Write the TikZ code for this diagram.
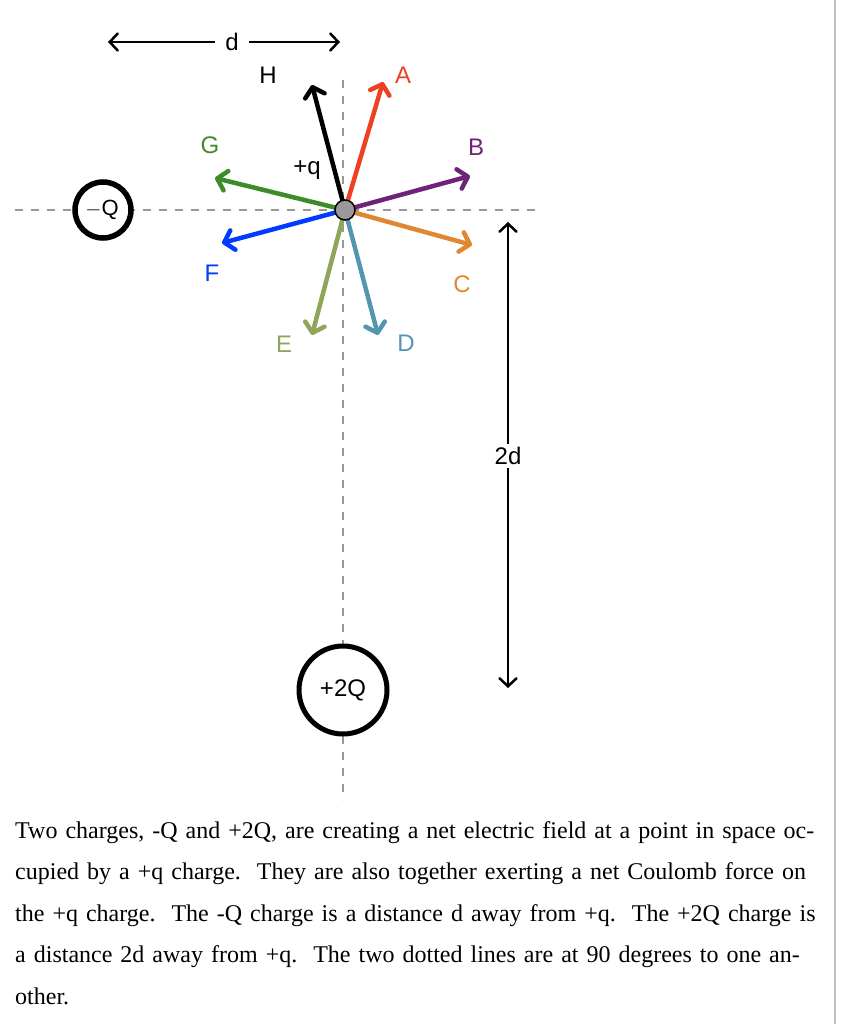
\documentclass[tikz,border=0pt]{standalone}
\usepackage{fontspec}
\setmainfont{Liberation Serif}
\newfontfamily\lsans{Liberation Sans}
\usetikzlibrary{arrows.meta}
\definecolor{cA}{RGB}{238,64,35}
\definecolor{cB}{RGB}{110,35,120}
\definecolor{cC}{RGB}{225,135,50}
\definecolor{cD}{RGB}{85,150,175}
\definecolor{cE}{RGB}{145,165,90}
\definecolor{cF}{RGB}{0,60,255}
\definecolor{cG}{RGB}{60,140,40}
\begin{document}
\begin{tikzpicture}[x=1pt,y=-1pt,
 vec/.style={line width=4.5pt,line cap=round,-{Straight Barb[length=9pt,width=20pt,line cap=round,line join=round]}},
 dim/.style={line width=2.5pt,-{Straight Barb[length=8pt,width=17pt,line cap=round]}},
 lab/.style={font=\lsans\fontsize{24}{24}\selectfont},
 dashln/.style={gray!80,line width=2pt,dash pattern=on 8pt off 8pt}]
\useasboundingbox (0,0) rectangle (853,1024);
\draw[gray!50,line width=1.5pt] (835,0) -- (835,1024);
\draw[dashln] (15,210) -- (535,210);
\draw[dashln] (343,80) -- (343,800);
\coordinate (q) at (345,210);
\foreach \t/\c in {{(312,85)}/black,{(383,82)}/cA,{(470,176)}/cB,{(472,245)}/cC,{(378,335)}/cD,{(312,335)}/cE,{(222,243)}/cF,{(215,178)}/cG}
  \draw[vec,\c] (q) -- \t;
\node[circle,draw=black,fill=gray!80,line width=1.5pt,minimum size=20pt,inner sep=0] (qn) at (q) {};
\node[circle,draw,line width=5.5pt,fill=white,minimum size=56pt,inner sep=0,lab] (nQ) at (103,210) {\kern-2pt{\fontsize{22}{22}\selectfont$-$Q}};
\node[circle,draw,line width=5pt,fill=white,minimum size=88pt,inner sep=0,lab] (pQ) at (343,690) {+2Q};
\node[lab] (lH) at (268,75) {H};
\node[lab,cA] (lA) at (403,75) {A};
\node[lab,cB] (lB) at (476,147) {B};
\node[lab,cC] (lC) at (462,284) {C};
\node[lab,cD] (lD) at (406,343) {D};
\node[lab,cE] (lE) at (284,344) {E};
\node[lab,cF] (lF) at (212,273) {F};
\node[lab,cG] (lG) at (210,145) {G};
\node[lab] (lq) at (307,170) {+q};
\node[lab,inner sep=2pt] (ld) at (232,42) {d};
\coordinate (dl) at (108,42); \coordinate (dr) at (340,42);
\draw[dim] (ld.west) ++(-8,0) -- (dl);
\draw[dim] (ld.east) ++(8,0) -- (dr);
\node[lab,fill=white] (l2d) at (508,456) {2d};
\coordinate (t2) at (508,222); \coordinate (b2) at (508,688);
\draw[dim] (l2d.north) -- (t2);
\draw[dim] (l2d.south) -- (b2);
\node[anchor=north west,text width=810pt,align=left,inner sep=0,font=\fontsize{24}{41.5}\selectfont] (txt) at (15,821)
{Two charges, -Q and +2Q, are creating a net electric field at a point in space occupied by a +q charge.\ \ They are also together exerting a net Coulomb force on the +q charge.\ \ The -Q charge is a distance d away from +q.\ \ The +2Q charge is a distance 2d away from +q.\ \ The two dotted lines are at 90 degrees to one another.};
\end{tikzpicture}
\end{document}
